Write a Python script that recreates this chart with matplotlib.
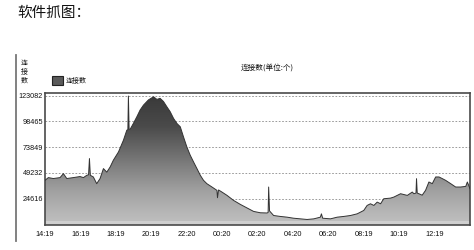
import numpy as np
import matplotlib
matplotlib.use("Agg")
import matplotlib.pyplot as plt
from matplotlib.colors import LinearSegmentedColormap
from matplotlib.patches import Polygon, Rectangle
from matplotlib.lines import Line2D

# ---- data (hours since 14:19, connection count) ----
hours = [0.00, 0.19, 0.47, 0.85, 1.04, 1.23, 1.60, 1.98, 2.17, 2.36, 2.46, 2.51, 2.56,
         2.73, 2.92, 3.11, 3.30, 3.49, 3.68, 3.86, 4.15, 4.43, 4.62, 4.68, 4.71, 4.75,
         4.81, 4.99, 5.19, 5.37, 5.56, 5.84, 6.13, 6.32, 6.50, 6.69, 6.88, 7.07, 7.26,
         7.45, 7.64, 7.82, 8.01, 8.20, 8.39, 8.58, 8.77, 8.95, 9.14, 9.43, 9.71, 9.74,
         9.80, 9.99, 10.28, 10.65, 11.03, 11.41, 11.78, 12.16, 12.54, 12.60, 12.63, 12.68,
         12.73, 12.91, 13.29, 13.67, 14.04, 14.42, 14.80, 15.18, 15.55, 15.61, 15.68,
         16.12, 16.50, 16.87, 17.25, 17.63, 18.00, 18.19, 18.38, 18.57, 18.76, 18.95,
         19.13, 19.51, 19.70, 20.08, 20.46, 20.74, 20.83, 20.95, 20.98, 21.02, 21.11,
         21.30, 21.49, 21.68, 21.87, 22.06, 22.25, 22.44, 22.62, 22.91, 23.19, 23.47,
         23.76, 23.85, 24.00]
conns = [42200, 44800, 43900, 44800, 48600, 43900, 44800, 45800, 44800, 47000, 47500, 63000, 47000,
         45400, 39000, 43900, 53400, 50000, 55000, 61400, 69300, 80500, 90100, 90500, 122700, 91000,
         91000, 96500, 103000, 109300, 114000, 119000, 122000, 119500, 120500, 117500, 112500, 107700, 101300,
         96500, 93300, 83700, 74100, 66200, 59700, 53400, 47000, 42200, 39000, 35800, 32600, 25600,
         33000, 31000, 27800, 23000, 19200, 15800, 12500, 11200, 11000, 11500, 35800, 13000,
         12000, 8600, 7700, 7000, 6000, 5400, 4800, 5400, 7000, 10200, 6000,
         5400, 7000, 7700, 8600, 10200, 13400, 18200, 19800, 18200, 21400, 19800,
         24600, 25200, 26200, 29400, 27800, 31000, 29400, 30000, 43800, 30000, 29400,
         28000, 32600, 40600, 39000, 45400, 45400, 43800, 42200, 39000, 35800, 35800,
         36400, 40600, 34200]

ytick_vals = [24616, 49232, 73849, 98465, 123082]
xtick_labels = ["14:19", "16:19", "18:19", "20:19", "22:20", "00:20",
                "02:20", "04:20", "06:20", "08:19", "10:19", "12:19"]
xtick_hours = [0, 2, 4, 6, 8, 10, 12, 14, 16, 18, 20, 22]

cjk = ["Noto Sans CJK SC", "DejaVu Sans"]
num_font = ["Liberation Sans", "DejaVu Sans"]

fig = plt.figure(figsize=(4.74, 2.5), dpi=100)
fig.patch.set_facecolor("white")

ax = fig.add_axes([45 / 474, 1 - 224.5 / 250, (470 - 45) / 474, (224.5 - 93) / 250])
ymax = 125600
ax.set_xlim(0, 24)
ax.set_ylim(0, ymax)

# gradient fill clipped to the area under the curve
cmap = LinearSegmentedColormap.from_list("g", ["#c2c2c2", "#a2a2a2", "#767676", "#4a4a4a", "#383838"])
grad = np.linspace(0, 1, 256).reshape(-1, 1)
im = ax.imshow(grad, extent=[0, 24, 0, ymax], origin="lower", aspect="auto",
               cmap=cmap, zorder=2, interpolation="bilinear")
verts = [(hours[0], 0)] + list(zip(hours, conns)) + [(hours[-1], 0)]
poly = Polygon(verts, closed=True, facecolor="none", edgecolor="none", transform=ax.transData)
ax.add_patch(poly)
im.set_clip_path(poly)
ax.plot(hours, conns, color="#333333", lw=0.7, zorder=3)

# light band at the bottom
ax.axhspan(0, 3000, color="#cfcfcf", zorder=2.5, lw=0)

# grid
for v in ytick_vals:
    ax.axhline(v, color="#8a8a8a", lw=0.6, ls=(0, (2, 2)), zorder=1.5)

ax.set_yticks(ytick_vals)
ax.set_yticklabels([str(v) for v in ytick_vals], fontsize=5.2, family=num_font, color="#111111")
ax.set_xticks(xtick_hours)
ax.set_xticklabels(xtick_labels, fontsize=5.3, family=num_font, color="#111111")
ax.tick_params(axis="y", length=0, pad=1.5)
ax.tick_params(axis="x", length=0, pad=5)
for s in ax.spines.values():
    s.set_color("#4a4a4a")
    s.set_linewidth(1.2)

# texts
fig.text(17 / 474, 1 - 13 / 250, "软件抓图：", family=cjk, fontsize=10.5, va="center", ha="left", color="#111111")
fig.text(24 / 474, 1 - 72 / 250, "连\n接\n数", family=cjk, fontsize=5, va="center", ha="center",
         color="#111111", linespacing=1.15)
fig.text(267 / 474, 1 - 68 / 250, "连接数(单位:个)", family=cjk, fontsize=5.5, va="center", ha="center",
         color="#111111")
fig.patches.append(Rectangle((52 / 474, 1 - 85 / 250), 11 / 474, 9 / 250, transform=fig.transFigure,
                             facecolor="#5a5a5a", edgecolor="#222222", lw=0.8))
fig.text(66 / 474, 1 - 80.5 / 250, "连接数", family=cjk, fontsize=5, va="center", ha="left", color="#111111")
fig.lines.append(Line2D([15.7 / 474, 15.7 / 474], [1 - 55 / 250, 1 - 241 / 250], transform=fig.transFigure,
                        color="#777777", lw=1.3))

fig.savefig("out.png", dpi=100, facecolor="white")
